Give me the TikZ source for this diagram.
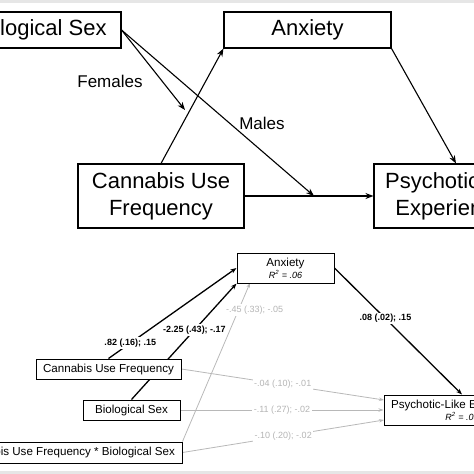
\documentclass[tikz,border=0pt]{standalone}
\usepackage{fontspec}
\setmainfont{Liberation Sans}
\usetikzlibrary{arrows.meta,calc}
\definecolor{lgray}{HTML}{B8B8B8}
\definecolor{lgtext}{HTML}{B5B5B5}
\definecolor{band}{HTML}{E6E6E6}
\newcommand\ftop{\fontsize{22}{27}\selectfont}
\newcommand\fbot{\fontsize{11.6}{12}\selectfont}
\newcommand\fsmall{\fontsize{9}{10}\selectfont}
\newcommand\flab{\fontsize{17}{20}\selectfont}
\pgfdeclarelayer{bg}
\pgfsetlayers{bg,main}
\begin{document}
\begin{tikzpicture}[x=1pt,y=-1pt,
 bigbox/.style={draw=black, line width=1.1pt, fill=white, align=center, inner sep=0pt, font=\ftop},
 smallbox/.style={draw=black, line width=1pt, fill=white, align=center, inner sep=0pt, font=\fbot},
 toparrow/.style={line width=1.1pt, -{Stealth[length=8pt,width=6pt]}},
 blackpath/.style={line width=1.3pt, -{Stealth[length=6pt,width=4.5pt]}},
 graypath/.style={draw=lgray, line width=0.8pt, -{Stealth[length=5pt,width=3.5pt]}},
 blacklab/.style={fill=white, inner sep=1.5pt, font=\fsmall\bfseries},
 graylab/.style={fill=white, inner sep=1.5pt, font=\fsmall, text=lgtext},
 toplab/.style={font=\flab}]
\useasboundingbox (0,0) rectangle (474,474);
\fill[band] (0,0) rectangle (474,2.5);
\fill[band] (0,471) rectangle (474,474);

% top panel
\node[bigbox, minimum width=167pt, minimum height=36pt] (bsT) at (37.5,30) {Biological Sex};
\node[bigbox, minimum width=167pt, minimum height=36pt] (anxT) at (307.5,30) {Anxiety};
\node[bigbox, minimum width=166pt, minimum height=64pt] (cufT) at (161,196) {Cannabis Use\\Frequency};
\node[bigbox, minimum width=164pt, minimum height=64pt] (pleT) at (456,196) {Psychotic-Like\\Experiences};
\coordinate (femEnd) at (185,110);
\coordinate (maleEnd) at (314,196);
\draw[toparrow] (bsT.east) -- (femEnd);
\draw[toparrow] (bsT.east) -- (maleEnd);
\draw[toparrow] (cufT.north) -- (anxT.south west);
\draw[toparrow] (cufT.east) -- (pleT.west);
\draw[toparrow] (anxT.south east) -- (pleT.north);
\node[toplab] (fem) at (110,81) {Females};
\node[toplab] (male) at (262,123) {Males};

% bottom panel
\node[smallbox, minimum width=97pt, minimum height=30pt] (anxB) at (285.5,268) {Anxiety\\{\fsmall\itshape R\textsuperscript{2} = .06}};
\node[smallbox, minimum width=145pt, minimum height=20pt] (cufB) at (108.5,369) {Cannabis Use Frequency};
\node[smallbox, minimum width=97pt, minimum height=20pt] (bsB) at (131.5,410) {Biological Sex};
\node[smallbox, minimum width=229pt, minimum height=21pt] (intB) at (67.5,452.5) {Cannabis Use Frequency * Biological Sex};
\node[smallbox, minimum width=156pt, minimum height=30pt] (pleB) at (462,410) {Psychotic-Like Experiences\\{\fsmall\itshape R\textsuperscript{2} = .03}};
\coordinate (anxIn) at (250,283);
\coordinate (pleIn1) at (384,400);
\coordinate (pleIn3) at (384,420);
\begin{pgfonlayer}{bg}
\draw[blackpath] (cufB.north) -- node[blacklab, pos=0.17] (l1) {.82 (.16); .15} (anxB.west);
\draw[blackpath] (bsB.north) -- node[blacklab, pos=0.6] (l2) {-2.25 (.43); -.17} (anxB.south west);
\draw[graypath] (intB.north east) -- node[graylab, pos=0.83, xshift=16pt] (l3) {-.45 (.33); -.05} (anxIn);
\draw[graypath] (cufB.east) -- node[graylab, pos=0.5] (l4) {-.04 (.10); -.01} (pleIn1);
\draw[graypath] (bsB.east) -- node[graylab, pos=0.5] (l5) {-.11 (.27); -.02} (pleB.west);
\draw[graypath] (intB.east) -- node[graylab, pos=0.5] (l6) {-.10 (.20); -.02} (pleIn3);
\draw[blackpath] (anxB.east) -- node[blacklab, pos=0.4] (l7) {.08 (.02); .15} (pleB.north);
\end{pgfonlayer}
\end{tikzpicture}
\end{document}
